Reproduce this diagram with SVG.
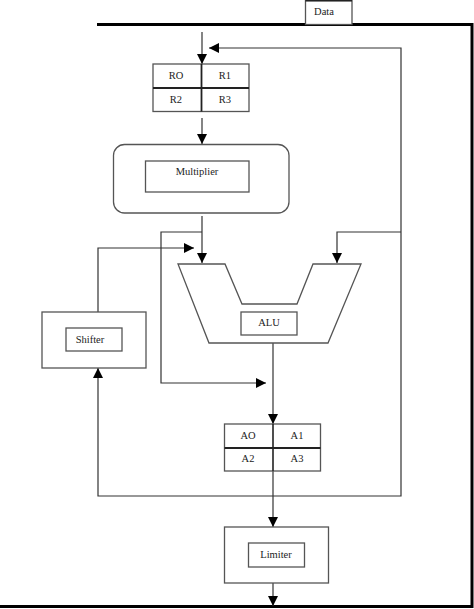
<svg xmlns="http://www.w3.org/2000/svg" width="474" height="609" viewBox="0 0 474 609">
<style>
.box{fill:#fff;stroke:#555;stroke-width:1.3}
.ln{fill:none;stroke:#333;stroke-width:1.2}
.thick{fill:none;stroke:#000;stroke-width:3}
.t{font-family:"Liberation Serif",serif;font-size:10.5px;fill:#222;text-anchor:middle}
</style>
<defs>
<marker id="ah" viewBox="0 0 10 10" refX="10" refY="5" markerWidth="10" markerHeight="10" markerUnits="userSpaceOnUse" orient="auto">
<path d="M0,0 L10,5 L0,10 Z" fill="#000"/>
</marker>
</defs>
<rect width="474" height="609" fill="#fff"/>
<g id="frame">
<polyline class="thick" points="97,24.5 472,24.5 472,606.5 0,606.5"/>
</g>
<g id="data">
<rect class="box" x="305.5" y="0.5" width="46.5" height="24" stroke="#333"/>
<line x1="305.5" y1="0.8" x2="352" y2="0.8" stroke="#222" stroke-width="1.6"/>
<text class="t" x="324" y="15">Data</text>
</g>
<g id="connectors">
<line class="ln" x1="202" y1="32" x2="202" y2="64" marker-end="url(#ah)"/>
<polyline class="ln" points="401,232 401,48 209,48" marker-end="url(#ah)"/>
<line class="ln" x1="202" y1="118" x2="202" y2="144" marker-end="url(#ah)"/>
<line class="ln" x1="202" y1="216" x2="202" y2="263" marker-end="url(#ah)"/>
<polyline class="ln" points="202,232 161,232 161,383 266,383" marker-end="url(#ah)"/>
<polyline class="ln" points="98,312 98,248 194,248" marker-end="url(#ah)"/>
<polyline class="ln" points="401,232 337,232 337,263" marker-end="url(#ah)"/>
<line class="ln" x1="273" y1="343" x2="273" y2="424" marker-end="url(#ah)"/>
<polyline class="ln" points="401,232 401,496 98,496 98,368" marker-end="url(#ah)"/>
<line class="ln" x1="273" y1="471" x2="273" y2="527" marker-end="url(#ah)"/>
<line class="ln" x1="273" y1="583" x2="273" y2="606" marker-end="url(#ah)"/>
</g>
<g id="registers-r">
<rect class="box" x="153" y="64" width="96" height="47.5"/>
<line x1="153" y1="88" x2="249" y2="88" stroke="#222" stroke-width="1.8"/>
<line x1="201.5" y1="64" x2="201.5" y2="111.5" stroke="#222" stroke-width="1.8"/>
<text class="t" x="176" y="79">RO</text>
<text class="t" x="225" y="79">R1</text>
<text class="t" x="176" y="103">R2</text>
<text class="t" x="225" y="103">R3</text>
</g>
<g id="multiplier">
<rect class="box" x="113.5" y="144.5" width="175.5" height="68.5" rx="11"/>
<rect class="box" x="145.5" y="161" width="103.5" height="31"/>
<text class="t" x="197" y="175">Multiplier</text>
</g>
<g id="alu">
<polygon class="box" points="178,264 225,264 242,304 297,304 313,264 361,264 328,343 209,343"/>
<rect class="box" x="241" y="312" width="56" height="23"/>
<text class="t" x="269" y="326">ALU</text>
</g>
<g id="shifter">
<rect class="box" x="42" y="312" width="104" height="56"/>
<rect class="box" x="66" y="328" width="56" height="23"/>
<text class="t" x="90" y="343">Shifter</text>
</g>
<g id="registers-a">
<rect class="box" x="224.5" y="424" width="96" height="47"/>
<line x1="224.5" y1="448" x2="320.5" y2="448" stroke="#222" stroke-width="1.8"/>
<line x1="273" y1="424" x2="273" y2="471" stroke="#222" stroke-width="1.6"/>
<text class="t" x="248" y="439">AO</text>
<text class="t" x="297" y="439">A1</text>
<text class="t" x="248" y="462">A2</text>
<text class="t" x="297" y="462">A3</text>
</g>
<g id="limiter">
<rect class="box" x="224.5" y="527" width="104" height="56"/>
<rect class="box" x="248.5" y="543" width="56" height="24"/>
<text class="t" x="276" y="558">Limiter</text>
</g>
</svg>
